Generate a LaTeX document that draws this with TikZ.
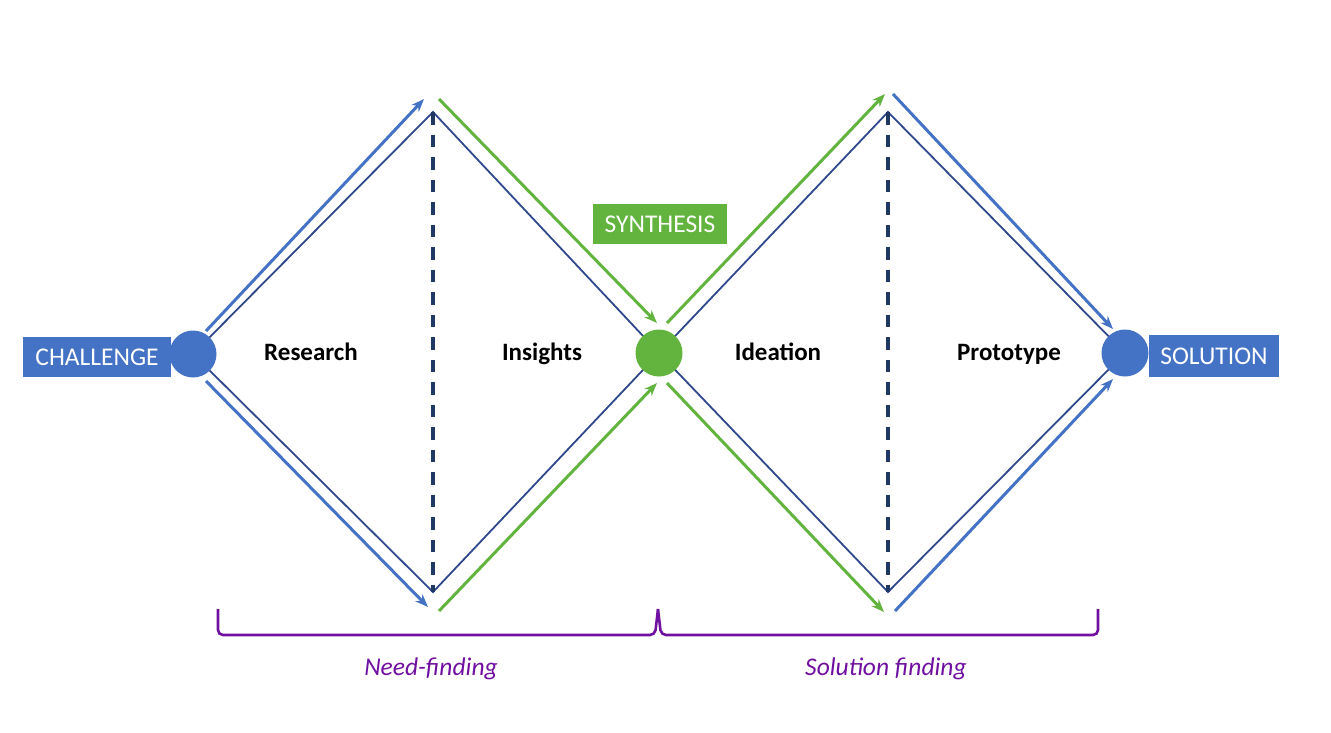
\documentclass[tikz,border=0pt]{standalone}
\usepackage{fontspec}
\setmainfont{Carlito}
\usetikzlibrary{arrows.meta}
\definecolor{cblue}{RGB}{68,114,196}
\definecolor{cnavy}{RGB}{47,72,140}
\definecolor{cdash}{RGB}{32,56,100}
\definecolor{cgreen}{RGB}{98,180,62}
\definecolor{cpurple}{RGB}{112,16,160}
\tikzset{
  hub/.style={circle,minimum size=47pt,inner sep=0pt},
  tag/.style={fill=#1,text=white,font=\fontsize{25.5}{28}\selectfont,inner sep=0pt,text height=16.5pt,text depth=0pt},
  phase/.style={font=\bfseries\fontsize{25}{28}\selectfont,text=black,text height=17.5pt,text depth=5.5pt,inner sep=0pt},
  brlabel/.style={font=\itshape\fontsize{25.5}{28}\selectfont,text=cpurple,text height=18pt,text depth=5.5pt,inner sep=0pt},
  inner/.style={draw=cnavy,line width=1.8pt},
  midline/.style={draw=cdash,line width=3.2pt,dash pattern=on 12.5pt off 10pt},
  barrow/.style={draw=cblue,line width=3pt,-{Stealth[length=13pt,width=10pt]}},
  garrow/.style={draw=cgreen,line width=3pt,-{Stealth[length=13pt,width=10pt]}},
  brace/.style={draw=cpurple,line width=2.6pt,rounded corners=5pt},
}
\begin{document}
\begin{tikzpicture}[x=1pt,y=-1pt]
\useasboundingbox (0,0) rectangle (1331,732);
% vertices
\coordinate (t1) at (433,112);
\coordinate (b1) at (433,592);
\coordinate (t2) at (888,112);
\coordinate (b2) at (888,592);
\coordinate (L) at (193,354);
\coordinate (M) at (659,353);
\coordinate (R) at (1125,353);
% inner diamonds
\draw[inner] (L) -- (t1) -- (M) -- (b1) -- cycle;
\draw[inner] (M) -- (t2) -- (R) -- (b2) -- cycle;
\draw[midline] (t1) -- (b1);
\draw[midline] (t2) -- (b2);
% hubs
\node[hub,fill=cblue] (cl) at (L) {};
\node[hub,fill=cgreen] (cm) at (M) {};
\node[hub,fill=cblue] (cr) at (R) {};
% tags
\node[tag=cblue,minimum width=148pt,minimum height=40pt] (chal) at (97,357) {CHALLENGE};
\node[tag=cblue,minimum width=130pt,minimum height=42pt] (sol) at (1214,356) {SOLUTION};
\node[tag=cgreen,minimum width=134pt,minimum height=40pt] (syn) at (660,224) {SYNTHESIS};
% phase labels
\node[phase] (res) at (311,354) {Research};
\node[phase] (ins) at (542,354) {Insights};
\node[phase] (ide) at (778,354) {Ideation};
\node[phase] (pro) at (1009,354) {Prototype};
% outer arrows
\coordinate (a1s) at (206,331); \coordinate (a1e) at (424,99);
\coordinate (a2s) at (206,381); \coordinate (a2e) at (428,607);
\coordinate (g1s) at (439,99);  \coordinate (g1e) at (657,323);
\coordinate (g2s) at (439,611); \coordinate (g2e) at (657,383);
\coordinate (g3s) at (667,323); \coordinate (g3e) at (885,94);
\coordinate (g4s) at (667,383); \coordinate (g4e) at (884,612);
\coordinate (b3s) at (893,94);  \coordinate (b3e) at (1113,329);
\coordinate (b4s) at (895,611); \coordinate (b4e) at (1113,379);
\draw[barrow] (a1s) -- (a1e);
\draw[barrow] (a2s) -- (a2e);
\draw[garrow] (g1s) -- (g1e);
\draw[garrow] (g2s) -- (g2e);
\draw[garrow] (g3s) -- (g3e);
\draw[garrow] (g4s) -- (g4e);
\draw[barrow] (b3s) -- (b3e);
\draw[barrow] (b4s) -- (b4e);
% braces
\draw[brace] (218,609) -- (218,635) -- (655,635) -- (658,609);
\draw[brace] (658,609) -- (661,635) -- (1098,635) -- (1098,609);
\node[brlabel] (nf) at (431,669) {Need-finding};
\node[brlabel] (sf) at (886,669) {Solution finding};
\end{tikzpicture}
\end{document}
